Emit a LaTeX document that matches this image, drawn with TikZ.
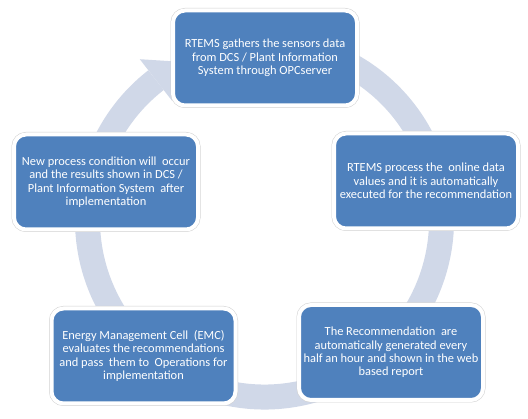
\documentclass[tikz,border=0pt]{standalone}
\usepackage{fontspec}
\setmainfont{Carlito}
\usetikzlibrary{calc}
\definecolor{boxblue}{RGB}{79,129,189}
\definecolor{ringcol}{RGB}{208,216,232}
\tikzset{
  stepbox/.style={rounded corners=12pt, fill=boxblue, draw=white, line width=4pt,
    preaction={draw=black!18, line width=5pt},
    text=white, align=center, inner sep=0pt,
    minimum width=184pt, minimum height=95pt,
    font=\fontsize{12.4pt}{13.4pt}\selectfont},
  ring/.style={draw=ringcol, line width=25pt},
  ringhead/.style={fill=ringcol}
}
\begin{document}
\begin{tikzpicture}[x=1pt,y=-1pt]
\useasboundingbox (0,0) rectangle (528,419);
\fill[white] (0,0) rectangle (528,419);
\coordinate (C) at (264.5,220);
% circular arrow
\draw[ring] ($(C)+(-110:177)$) arc[start angle=-110, end angle=232.2, radius=177];
\coordinate (Hout) at ($(C)+(232.2:203.5)$);
\coordinate (Hin) at ($(C)+(232.2:150.5)$);
\coordinate (Htip) at ($(C)+(232.2:177)+(322.2:30)$);
\fill[ringhead] (Hout) -- (Htip) -- (Hin) -- cycle;
% boxes
\node[stepbox] (top) at (265,58) {RTEMS gathers the sensors data\\from DCS / Plant Information\\System through OPCserver};
\node[stepbox] (right) at (426,181) {RTEMS process the\ \ online data\\values and it is automatically\\executed for the recommendation};
\node[stepbox] (bright) at (391,352.5) {The Recommendation\ \ are\\automatically generated every\\half an hour and shown in the web\\based report};
\node[stepbox] (bleft) at (143.5,356) {Energy Management Cell\ \ (EMC)\\evaluates the recommendations\\and pass\ \ them to\ \ Operations for\\implementation};
\node[stepbox] (left) at (106,182) {New process condition will\ \ occur\\and the results shown in DCS /\\Plant Information System\ \ after\\implementation};
\end{tikzpicture}
\end{document}
